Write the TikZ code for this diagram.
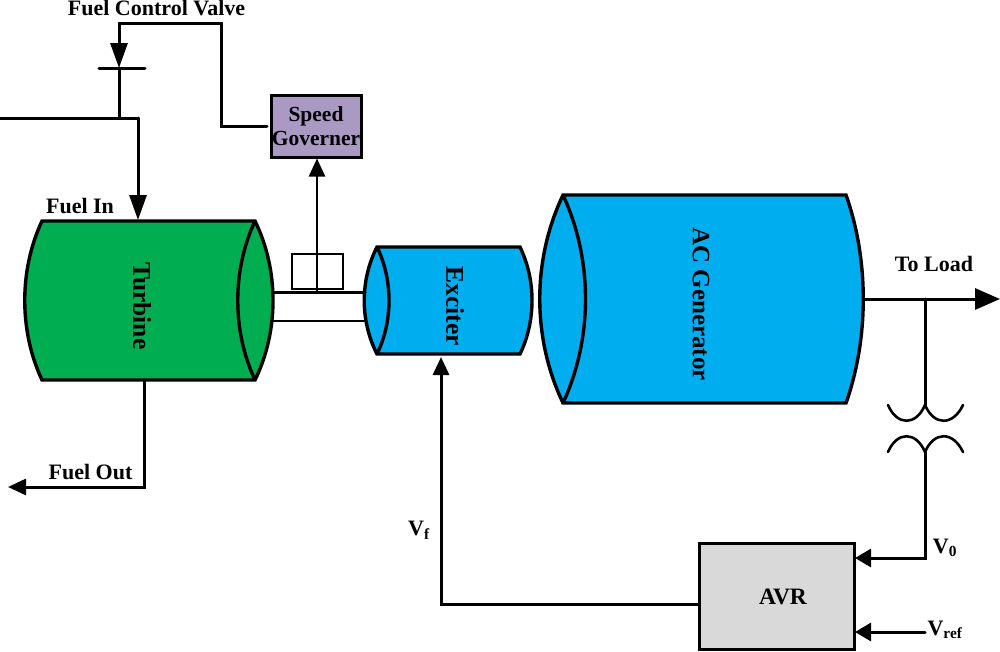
\documentclass[tikz,border=0pt]{standalone}
\usepackage{fontspec}
\setmainfont{Liberation Serif}
\usetikzlibrary{arrows.meta}
\tikzset{
  x=1pt,y=-1pt,
  wire/.style={line width=3pt,line cap=round,line join=miter},
  feed/.style={wire,-{Triangle[length=18pt,width=16pt]}},
  feedlong/.style={wire,-{Triangle[length=25pt,width=17pt]}},
  feedload/.style={wire,-{Triangle[length=25pt,width=21pt]}},
  feedshort/.style={wire,-{Triangle[length=16pt,width=18pt]}},
  drum/.style={draw=black,line width=3.4pt,line join=miter},
  lbl/.style={font=\fontsize{22}{24}\selectfont\bfseries,inner sep=0pt},
  lbv/.style={font=\fontsize{25.5}{27}\selectfont\bfseries,inner sep=0pt,rotate=-90},
  boxed/.style={draw=black,line width=3pt,inner sep=0pt,align=center,font=\fontsize{21.5}{25}\selectfont\bfseries}
}
\definecolor{turbg}{HTML}{00AD50}
\definecolor{excb}{HTML}{00AEEF}
\definecolor{purp}{HTML}{A999C3}
\definecolor{grayb}{HTML}{D9D9D9}
\begin{document}
\begin{tikzpicture}
\useasboundingbox (0,0) rectangle (1000,651);
% Turbine
\filldraw[drum,fill=turbg] (42,221) -- (255,221)
  .. controls (279,270) and (279,331) .. (255,380) -- (42,380)
  .. controls (19,331) and (19,270) .. (42,221) -- cycle;
\draw[drum] (255,221) .. controls (232,270) and (232,331) .. (255,380);
% Exciter
\filldraw[drum,fill=excb] (377,247) -- (520,247)
  .. controls (536,280) and (536,321) .. (520,354) -- (377,354)
  .. controls (360,321) and (360,280) .. (377,247) -- cycle;
\draw[drum] (377,247) .. controls (393,280) and (393,321) .. (377,354);
% AC generator
\filldraw[drum,fill=excb] (563,195) -- (846,195)
  .. controls (869,260) and (869,338) .. (846,403) -- (563,403)
  .. controls (532,338) and (532,260) .. (563,195) -- cycle;
\draw[drum] (563,195) .. controls (593,260) and (593,338) .. (563,403);
% Text on drums
\node[lbv] (turbine) at (142,306) {Turbine};
\node[lbv] (exciter) at (455,306) {Exciter};
\node[lbv,font=\fontsize{25}{27}\selectfont\bfseries] (acgen) at (701,304) {AC Generator};
% Boxes
\node[boxed,fill=purp,minimum width=90pt,minimum height=62pt] (gov) at (316,126) {Speed\\[-1pt]Governer};
\node[boxed,fill=grayb,minimum width=155pt,minimum height=106pt] (avr) at (776.5,596) {};
\node[lbl,font=\fontsize{23.5}{25}\selectfont\bfseries] (avrt) at (783,597) {AVR};
\node[draw=black,line width=2.4pt,minimum width=51pt,minimum height=35pt,inner sep=0pt] (coupling) at (317.5,271.5) {};
% Anchors for connectors
\coordinate (turbR1) at (273,292);
\coordinate (excL1) at (365,292);
\coordinate (turbR2) at (273,321);
\coordinate (excL2) at (365,321);
\coordinate (shaftup) at (317,292);
\coordinate (inleft) at (0,118);
\coordinate (injoin) at (119,118);
\coordinate (inright) at (138,118);
\coordinate (turbtop) at (138,220);
\coordinate (valvetop) at (119,23);
\coordinate (valvemid) at (119,68);
\coordinate (valveL) at (99,68);
\coordinate (valveR) at (145,68);
\coordinate (govcorner) at (221,23);
\coordinate (govcorner2) at (221,126);
\coordinate (govin) at (267,126);
\coordinate (turbbot) at (144,380);
\coordinate (outcorner) at (144,487);
\coordinate (outend) at (8,487);
\coordinate (excbot) at (441,357);
\coordinate (avrleft) at (699,604);
\coordinate (avrcorner) at (441,604);
\coordinate (genright) at (863,299);
\coordinate (loadend) at (1000,299);
\coordinate (tap) at (925,299);
\coordinate (ct1) at (925,405);
\coordinate (ct2) at (925,452);
\coordinate (v0corner) at (925,558);
\coordinate (v0in) at (855,558);
\coordinate (vrefstart) at (925,632);
\coordinate (vrefin) at (855,632);
% Connectors
\draw[wire] (turbR1) -- (excL1);
\draw[wire,line width=2.4pt] (turbR2) -- (excL2);
\draw[feed,line width=2.4pt] (shaftup) -- (gov.south -| shaftup);
\draw[wire] (inleft) -- (inright);
\draw[feedlong] (inright) -- (turbtop);
\draw[wire] (injoin) -- (valvemid);
\draw[feedlong] (govin) -- (govcorner2) -- (govcorner) -- (valvetop) -- (valvemid);
\draw[wire] (valveL) -- (valveR);
\draw[feed] (turbbot) -- (outcorner) -- (outend);
\draw[feed] (avrleft) -- (avrcorner) -- (excbot);
\draw[feedload] (genright) -- (loadend);
\draw[wire] (tap) -- (ct1);
\draw[feedshort] (ct2) -- (v0corner) -- (v0in);
\draw[feedshort] (vrefstart) -- (vrefin);
% Transformer coils
\draw[wire,line width=2.6pt] (888,405) .. controls (897,426) and (916,426) .. (925,405)
  .. controls (934,426) and (953,426) .. (963,405);
\draw[wire,line width=2.6pt] (888,452) .. controls (897,431) and (916,431) .. (925,452)
  .. controls (934,431) and (953,431) .. (963,452);
% Labels
\node[lbl] (t1) at (156.5,8) {Fuel Control Valve};
\node[lbl] (t2) at (80,206) {Fuel In};
\node[lbl] (t3) at (90.5,472) {Fuel Out};
\node[lbl] (t4) at (934,264) {To Load};
\node[lbl] (t5) at (419,530) {V\textsubscript{f}};
\node[lbl] (t6) at (945,548) {V\textsubscript{0}};
\node[lbl] (t7) at (945,630) {V\textsubscript{ref}};
\end{tikzpicture}
\end{document}
